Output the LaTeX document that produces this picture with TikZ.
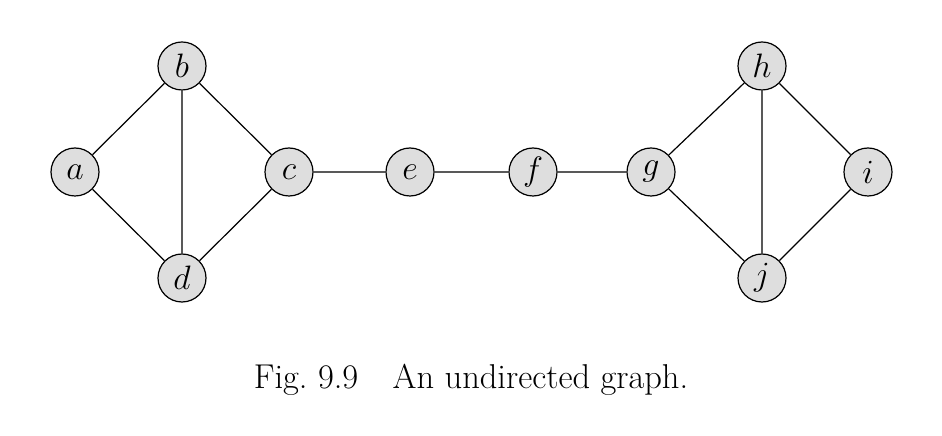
\RequirePackage{fix-cm}
\documentclass[tikz,border=0pt]{standalone}
\begin{document}
\begin{tikzpicture}[x=1bp,y=-1bp,
  vtx/.style={circle,draw,fill=black!13,line width=1.2bp,minimum size=48bp,inner sep=0pt,font=\fontsize{34}{40}\selectfont},
  edge/.style={line width=1.2bp}]
\useasboundingbox (0,0) rectangle (942,436);
\node[vtx] (a) at (75,172) {$a$};
\node[vtx] (b) at (182,66) {$b$};
\node[vtx] (c) at (289,172) {$c$};
\node[vtx] (d) at (182,278) {$d$};
\node[vtx] (e) at (410,172) {$e$};
\node[vtx] (f) at (533,172) {$f$};
\node[vtx] (g) at (651,172) {$g$};
\node[vtx] (h) at (762,66) {$h$};
\node[vtx] (i) at (868,172) {$i$};
\node[vtx] (j) at (762,278) {$j$};
\draw[edge] (a)--(b) (a)--(d) (b)--(d) (b)--(c) (c)--(d) (c)--(e) (e)--(f) (f)--(g)
  (g)--(h) (g)--(j) (h)--(j) (h)--(i) (i)--(j);
\node[font=\fontsize{34.6}{40}\selectfont] (cap) at (471,380) {Fig.~9.9\quad An undirected graph.};
\end{tikzpicture}
\end{document}
